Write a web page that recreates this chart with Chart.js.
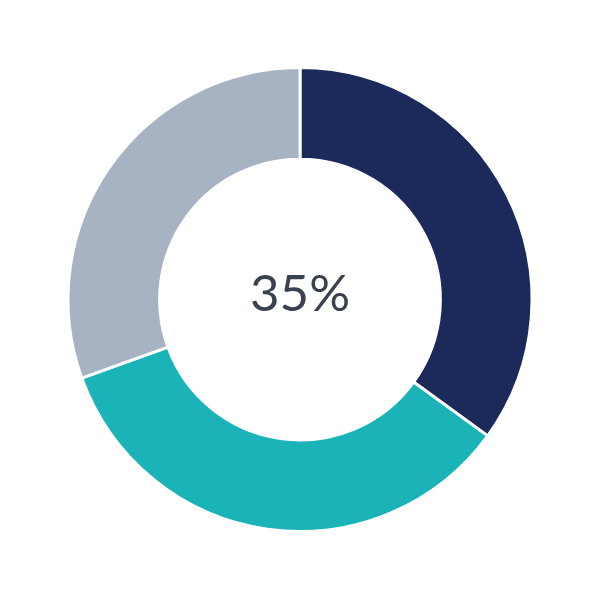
<!DOCTYPE html>
<html>
<head>
<meta charset="utf-8">
<script src="https://cdn.jsdelivr.net/npm/chart.js@4/dist/chart.umd.min.js"></script>
<style>
html,body{margin:0;padding:0;background:#fff;}
#wrap{width:600px;height:599px;position:relative;}
</style>
</head>
<body>
<div id="wrap"><canvas id="c"></canvas></div>
<script>
const categories = ["A", "B", "C"];
const values = [35, 34.5, 30.5];
const colors = ["#1b2a5a", "#1ab4b8", "#a7b2c3"];
const centerLabel = "35%";

const centerText = {
  id: 'centerText',
  afterDraw(chart) {
    const ctx = chart.ctx;
    const meta = chart.getDatasetMeta(0);
    const arc = meta.data[0];
    ctx.save();
    ctx.font = '400 51px Lato';
    ctx.fillStyle = '#3a4250';
    ctx.textAlign = 'center';
    ctx.textBaseline = 'middle';
    ctx.fillText(centerLabel, arc.x, arc.y - 5);
    ctx.restore();
  }
};

new Chart(document.getElementById('c'), {
  type: 'doughnut',
  data: {
    labels: categories,
    datasets: [{
      data: values,
      backgroundColor: colors,
      borderColor: '#ffffff',
      borderWidth: 3
    }]
  },
  options: {
    responsive: true,
    maintainAspectRatio: false,
    animation: false,
    cutout: '60.5%',
    layout: { padding: 66 },
    plugins: { legend: { display: false }, tooltip: { enabled: false } }
  },
  plugins: [centerText]
});
</script>
</body>
</html>
